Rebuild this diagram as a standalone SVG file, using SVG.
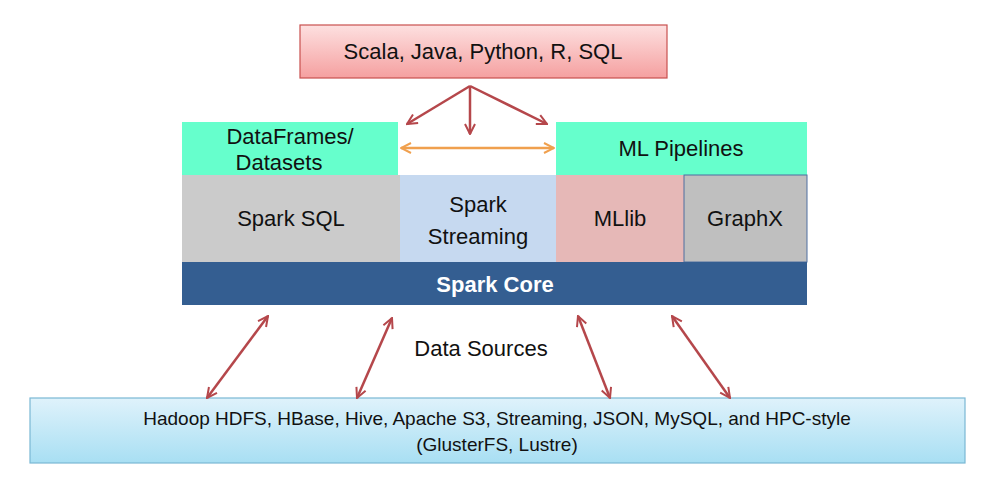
<svg xmlns="http://www.w3.org/2000/svg" width="1002" height="487" viewBox="0 0 1002 487">
<style>
text{font-family:"Liberation Sans",Arial,sans-serif;font-size:22px;fill:#111;text-anchor:middle}
.r{stroke:#b5474b;stroke-width:2.5;fill:none}
.o{stroke:#f0a04e;stroke-width:2.5;fill:none}
</style>
<defs>
<linearGradient id="gr" x1="0" y1="0" x2="0" y2="1"><stop offset="0" stop-color="#fde0e0"/><stop offset="1" stop-color="#f5a0a0"/></linearGradient>
<linearGradient id="gb" x1="0" y1="0" x2="0" y2="1"><stop offset="0" stop-color="#dff2fb"/><stop offset="1" stop-color="#a8dff3"/></linearGradient>
<marker id="ar" viewBox="0 0 10 10" refX="9" refY="5" markerWidth="5" markerHeight="5" orient="auto-start-reverse"><path d="M1,1 L9,5 L1,9" fill="none" stroke="#b5474b" stroke-width="1.6"/></marker>
<marker id="ao" viewBox="0 0 10 10" refX="9" refY="5" markerWidth="5" markerHeight="5" orient="auto-start-reverse"><path d="M1,1 L9,5 L1,9" fill="none" stroke="#f0a04e" stroke-width="1.6"/></marker>
</defs>
<g id="lang"><rect x="300" y="25" width="367" height="53" fill="url(#gr)" stroke="#c9504f" stroke-width="1.2"/><text x="483" y="59">Scala, Java, Python, R, SQL</text></g>
<g id="df"><rect x="182" y="122" width="216" height="53" fill="#66ffcc"/><text x="290" y="144">DataFrames/</text><text x="279" y="170">Datasets</text></g>
<g id="mlp"><rect x="556" y="122" width="251" height="53" fill="#66ffcc"/><text x="681" y="156">ML Pipelines</text></g>
<g id="sql"><rect x="182" y="175" width="218" height="87" fill="#cbcbcb"/><text x="291" y="226">Spark SQL</text></g>
<g id="stream"><rect x="400" y="175" width="156" height="87" fill="#c6d9f0"/><text x="478" y="212">Spark</text><text x="478" y="244">Streaming</text></g>
<g id="mllib"><rect x="556" y="175" width="128" height="87" fill="#e6b8b7"/><text x="620" y="226">MLlib</text></g>
<g id="graphx"><rect x="684" y="175" width="123" height="87" fill="#bfbfbf" stroke="#4f6fa0" stroke-width="1"/><text x="745" y="226">GraphX</text></g>
<g id="core"><rect x="182" y="262" width="625" height="43" fill="#345e91"/><text x="495" y="292" style="fill:#fff;font-weight:bold">Spark Core</text></g>
<g id="ds"><text x="481" y="356">Data Sources</text></g>
<g id="src"><rect x="30" y="398" width="935" height="65" fill="url(#gb)" stroke="#7ab8d4" stroke-width="1.2"/><text x="497" y="425" style="font-size:19px">Hadoop HDFS, HBase, Hive, Apache S3, Streaming,  JSON, MySQL, and HPC-style</text><text x="497" y="451" style="font-size:19px">(GlusterFS, Lustre)</text></g>
<g id="connectors">
<path class="r" d="M470,86 L407,124" marker-end="url(#ar)"/>
<path class="r" d="M470,86 L470,134" marker-end="url(#ar)"/>
<path class="r" d="M470,86 L547,124" marker-end="url(#ar)"/>
<path class="o" d="M401,148 L554,148" marker-start="url(#ao)" marker-end="url(#ao)"/>
<path class="r" d="M268,316 L207,398" marker-start="url(#ar)" marker-end="url(#ar)"/>
<path class="r" d="M392,318 L357,398" marker-start="url(#ar)" marker-end="url(#ar)"/>
<path class="r" d="M578,316 L610,398" marker-start="url(#ar)" marker-end="url(#ar)"/>
<path class="r" d="M672,316 L730,398" marker-start="url(#ar)" marker-end="url(#ar)"/>
</g>
</svg>
